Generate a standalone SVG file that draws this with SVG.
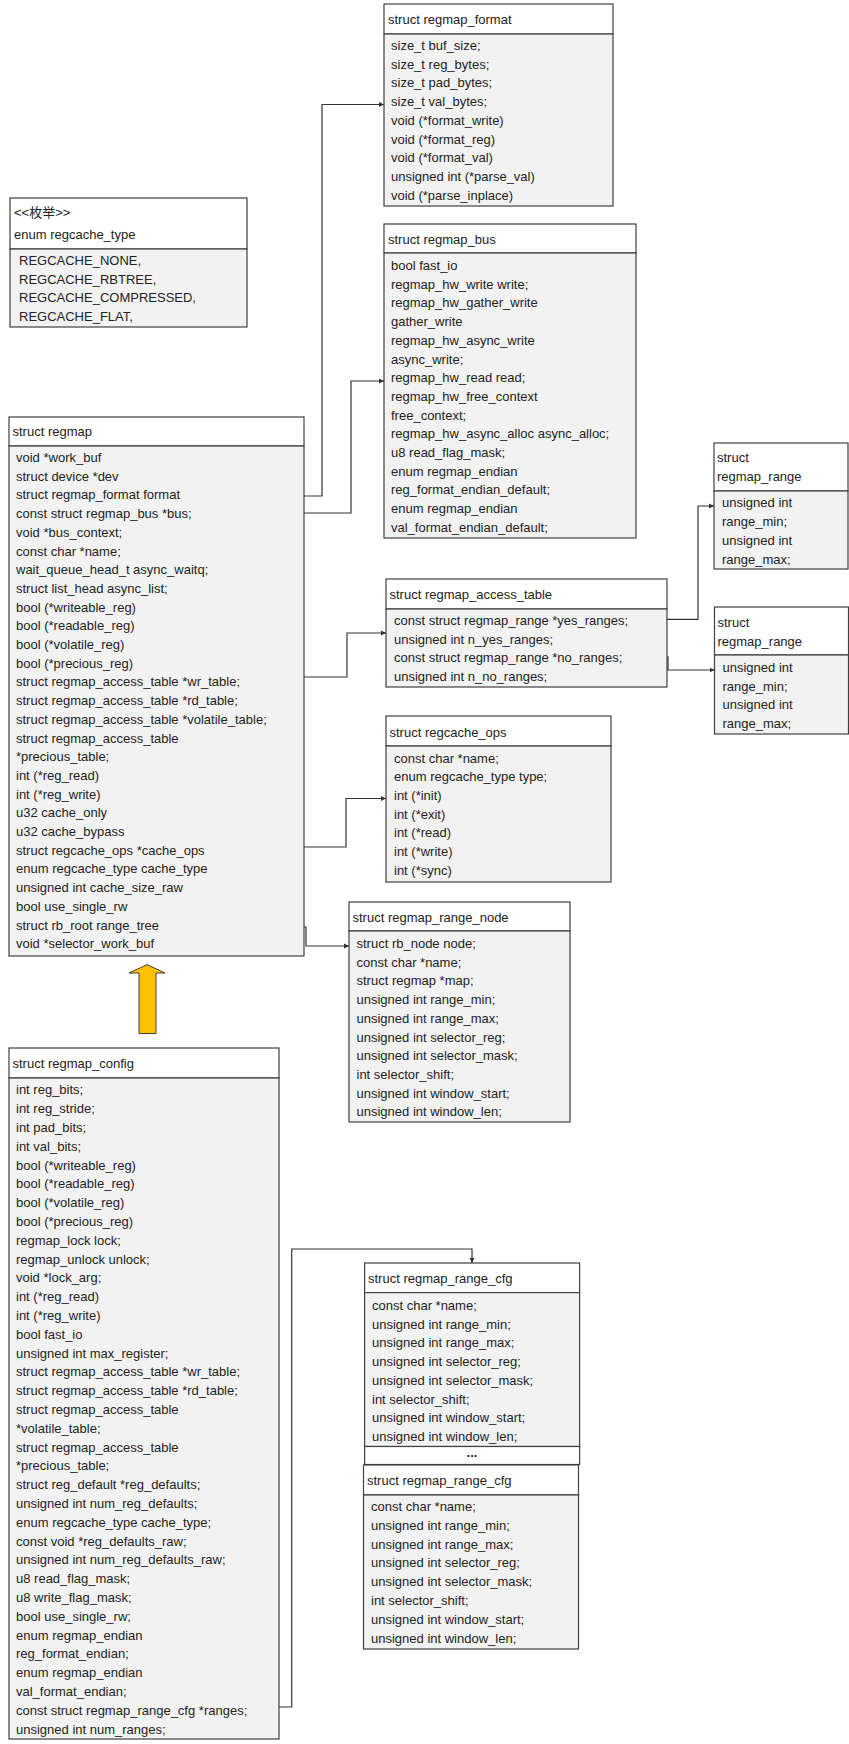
<svg xmlns="http://www.w3.org/2000/svg" width="849" height="1744" viewBox="0 0 849 1744">
<defs>
<style>
.h{fill:#fff;stroke:#404040;stroke-width:1.2}
.b{fill:#f2f2f2;stroke:#404040;stroke-width:1.2}
text{font-family:"Liberation Sans",Arial,sans-serif;font-size:13px;fill:#222}
.c{fill:none;stroke:#333;stroke-width:1.2}
</style>
<marker id="a" markerWidth="6" markerHeight="6" refX="5" refY="3" orient="auto" markerUnits="userSpaceOnUse"><path d="M0,0.5 L5,3 L0,5.5z" fill="#333"/></marker>
</defs>
<rect width="849" height="1744" fill="#fff"/>

<g id="regmap_format">
<rect class="h" x="384" y="4" width="229" height="30"/><rect class="b" x="384" y="34" width="229" height="172"/>
<text x="388" y="24">struct regmap_format</text>
<text x="391" y="50">size_t buf_size;</text>
<text x="391" y="68.7">size_t reg_bytes;</text>
<text x="391" y="87.4">size_t pad_bytes;</text>
<text x="391" y="106.1">size_t val_bytes;</text>
<text x="391" y="124.8">void (*format_write)</text>
<text x="391" y="143.5">void (*format_reg)</text>
<text x="391" y="162.2">void (*format_val)</text>
<text x="391" y="180.9">unsigned int (*parse_val)</text>
<text x="391" y="199.6">void (*parse_inplace)</text>
</g>

<g id="enum_regcache_type">
<rect class="h" x="10" y="198" width="237" height="51"/><rect class="b" x="10" y="249" width="237" height="78"/>
<text x="14" y="217" style="font-family:'Liberation Sans','Noto Sans CJK SC',sans-serif">&lt;&lt;枚举&gt;&gt;</text>
<text x="14" y="239">enum regcache_type</text>
<text x="19" y="265">REGCACHE_NONE,</text>
<text x="19" y="284">REGCACHE_RBTREE,</text>
<text x="19" y="302">REGCACHE_COMPRESSED,</text>
<text x="19" y="321">REGCACHE_FLAT,</text>
</g>

<g id="regmap_bus">
<rect class="h" x="384" y="224" width="252" height="29"/><rect class="b" x="384" y="253" width="252" height="285"/>
<text x="388" y="244">struct regmap_bus</text>
<text x="391" y="270">bool fast_io</text>
<text x="391" y="288.7">regmap_hw_write write;</text>
<text x="391" y="307.4">regmap_hw_gather_write</text>
<text x="391" y="326.1">gather_write</text>
<text x="391" y="344.8">regmap_hw_async_write</text>
<text x="391" y="363.5">async_write;</text>
<text x="391" y="382.2">regmap_hw_read read;</text>
<text x="391" y="400.9">regmap_hw_free_context</text>
<text x="391" y="419.6">free_context;</text>
<text x="391" y="438.3">regmap_hw_async_alloc async_alloc;</text>
<text x="391" y="457">u8 read_flag_mask;</text>
<text x="391" y="475.7">enum regmap_endian</text>
<text x="391" y="494.4">reg_format_endian_default;</text>
<text x="391" y="513.1">enum regmap_endian</text>
<text x="391" y="531.8">val_format_endian_default;</text>
</g>

<g id="regmap">
<rect class="h" x="9" y="417" width="295" height="29"/><rect class="b" x="9" y="446" width="295" height="510"/>
<text x="12.5" y="436">struct regmap</text>
<text x="16" y="462">void *work_buf</text>
<text x="16" y="480.7">struct device *dev</text>
<text x="16" y="499.4">struct regmap_format format</text>
<text x="16" y="518.1">const struct regmap_bus *bus;</text>
<text x="16" y="536.8">void *bus_context;</text>
<text x="16" y="555.5">const char *name;</text>
<text x="16" y="574.2">wait_queue_head_t async_waitq;</text>
<text x="16" y="592.9">struct list_head async_list;</text>
<text x="16" y="611.6">bool (*writeable_reg)</text>
<text x="16" y="630.3">bool (*readable_reg)</text>
<text x="16" y="649">bool (*volatile_reg)</text>
<text x="16" y="667.7">bool (*precious_reg)</text>
<text x="16" y="686.4">struct regmap_access_table *wr_table;</text>
<text x="16" y="705.1">struct regmap_access_table *rd_table;</text>
<text x="16" y="723.8">struct regmap_access_table *volatile_table;</text>
<text x="16" y="742.5">struct regmap_access_table</text>
<text x="16" y="761.2">*precious_table;</text>
<text x="16" y="779.9">int (*reg_read)</text>
<text x="16" y="798.6">int (*reg_write)</text>
<text x="16" y="817.3">u32 cache_only</text>
<text x="16" y="836">u32 cache_bypass</text>
<text x="16" y="854.7">struct regcache_ops *cache_ops</text>
<text x="16" y="873.4">enum regcache_type cache_type</text>
<text x="16" y="892.1">unsigned int cache_size_raw</text>
<text x="16" y="910.8">bool use_single_rw</text>
<text x="16" y="929.5">struct rb_root range_tree</text>
<text x="16" y="948.2">void *selector_work_buf</text>
</g>

<g id="regmap_range_1">
<rect class="h" x="714" y="443" width="134" height="48"/><rect class="b" x="714" y="491" width="134" height="78"/>
<text x="717" y="462">struct</text>
<text x="717" y="481">regmap_range</text>
<text x="722" y="507">unsigned int</text>
<text x="722" y="526">range_min;</text>
<text x="722" y="545">unsigned int</text>
<text x="722" y="564">range_max;</text>
</g>

<g id="regmap_access_table">
<rect class="h" x="386" y="579" width="281" height="30"/><rect class="b" x="386" y="609" width="281" height="78"/>
<text x="389.5" y="599">struct regmap_access_table</text>
<text x="394" y="625">const struct regmap_range *yes_ranges;</text>
<text x="394" y="643.7">unsigned int n_yes_ranges;</text>
<text x="394" y="662.4">const struct regmap_range *no_ranges;</text>
<text x="394" y="681.1">unsigned int n_no_ranges;</text>
</g>

<g id="regmap_range_2">
<rect class="h" x="714.5" y="607" width="134" height="48"/><rect class="b" x="714.5" y="655" width="134" height="79"/>
<text x="717.5" y="627">struct</text>
<text x="717.5" y="645.5">regmap_range</text>
<text x="722.5" y="672">unsigned int</text>
<text x="722.5" y="690.7">range_min;</text>
<text x="722.5" y="709.4">unsigned int</text>
<text x="722.5" y="728.1">range_max;</text>
</g>

<g id="regcache_ops">
<rect class="h" x="386" y="716" width="225" height="30"/><rect class="b" x="386" y="746" width="225" height="136"/>
<text x="389.5" y="736.5">struct regcache_ops</text>
<text x="394" y="762.6">const char *name;</text>
<text x="394" y="781.3">enum regcache_type type;</text>
<text x="394" y="800">int (*init)</text>
<text x="394" y="818.7">int (*exit)</text>
<text x="394" y="837.4">int (*read)</text>
<text x="394" y="856.1">int (*write)</text>
<text x="394" y="874.8">int (*sync)</text>
</g>

<g id="regmap_range_node">
<rect class="h" x="349" y="902" width="221" height="29"/><rect class="b" x="349" y="931" width="221" height="191"/>
<text x="352.5" y="922">struct regmap_range_node</text>
<text x="356.5" y="948">struct rb_node node;</text>
<text x="356.5" y="966.7">const char *name;</text>
<text x="356.5" y="985.4">struct regmap *map;</text>
<text x="356.5" y="1004.1">unsigned int range_min;</text>
<text x="356.5" y="1022.8">unsigned int range_max;</text>
<text x="356.5" y="1041.5">unsigned int selector_reg;</text>
<text x="356.5" y="1060.2">unsigned int selector_mask;</text>
<text x="356.5" y="1078.9">int selector_shift;</text>
<text x="356.5" y="1097.6">unsigned int window_start;</text>
<text x="356.5" y="1116.3">unsigned int window_len;</text>
</g>

<g id="inherit_arrow">
<path d="M147,964.6 L165,973 L156,973 L156,1033.5 L139,1033.5 L139,973 L129,973 Z" fill="#ffc000" stroke="#404040" stroke-width="1"/>
</g>

<g id="regmap_config">
<rect class="h" x="9" y="1048" width="270" height="30"/><rect class="b" x="9" y="1078" width="270" height="661"/>
<text x="12.5" y="1068">struct regmap_config</text>
<text x="16" y="1094.4">int reg_bits;</text>
<text x="16" y="1113.2">int reg_stride;</text>
<text x="16" y="1132">int pad_bits;</text>
<text x="16" y="1150.8">int val_bits;</text>
<text x="16" y="1169.6">bool (*writeable_reg)</text>
<text x="16" y="1188.4">bool (*readable_reg)</text>
<text x="16" y="1207.2">bool (*volatile_reg)</text>
<text x="16" y="1226">bool (*precious_reg)</text>
<text x="16" y="1244.8">regmap_lock lock;</text>
<text x="16" y="1263.6">regmap_unlock unlock;</text>
<text x="16" y="1282.4">void *lock_arg;</text>
<text x="16" y="1301.2">int (*reg_read)</text>
<text x="16" y="1320">int (*reg_write)</text>
<text x="16" y="1338.8">bool fast_io</text>
<text x="16" y="1357.6">unsigned int max_register;</text>
<text x="16" y="1376.4">struct regmap_access_table *wr_table;</text>
<text x="16" y="1395.2">struct regmap_access_table *rd_table;</text>
<text x="16" y="1414">struct regmap_access_table</text>
<text x="16" y="1432.8">*volatile_table;</text>
<text x="16" y="1451.6">struct regmap_access_table</text>
<text x="16" y="1470.4">*precious_table;</text>
<text x="16" y="1489.2">struct reg_default *reg_defaults;</text>
<text x="16" y="1508">unsigned int num_reg_defaults;</text>
<text x="16" y="1526.8">enum regcache_type cache_type;</text>
<text x="16" y="1545.6">const void *reg_defaults_raw;</text>
<text x="16" y="1564.4">unsigned int num_reg_defaults_raw;</text>
<text x="16" y="1583.2">u8 read_flag_mask;</text>
<text x="16" y="1602">u8 write_flag_mask;</text>
<text x="16" y="1620.8">bool use_single_rw;</text>
<text x="16" y="1639.6">enum regmap_endian</text>
<text x="16" y="1658.4">reg_format_endian;</text>
<text x="16" y="1677.2">enum regmap_endian</text>
<text x="16" y="1696">val_format_endian;</text>
<text x="16" y="1714.8">const struct regmap_range_cfg *ranges;</text>
<text x="16" y="1733.6">unsigned int num_ranges;</text>
</g>

<g id="regmap_range_cfg_1">
<rect class="h" x="364.6" y="1263" width="215" height="29.6"/><rect class="b" x="364.6" y="1292.6" width="215" height="153.9"/>
<text x="368" y="1283">struct regmap_range_cfg</text>
<text x="372" y="1310">const char *name;</text>
<text x="372" y="1328.7">unsigned int range_min;</text>
<text x="372" y="1347.4">unsigned int range_max;</text>
<text x="372" y="1366.1">unsigned int selector_reg;</text>
<text x="372" y="1384.8">unsigned int selector_mask;</text>
<text x="372" y="1403.5">int selector_shift;</text>
<text x="372" y="1422.2">unsigned int window_start;</text>
<text x="372" y="1440.9">unsigned int window_len;</text>
</g>

<g id="ellipsis">
<rect class="h" x="364.6" y="1446.5" width="215" height="18"/>
<text x="472" y="1457" text-anchor="middle" style="font-weight:bold">...</text>
</g>

<g id="regmap_range_cfg_2">
<rect class="h" x="363.5" y="1465" width="215" height="30"/><rect class="b" x="363.5" y="1495" width="215" height="154"/>
<text x="367" y="1485">struct regmap_range_cfg</text>
<text x="371" y="1511">const char *name;</text>
<text x="371" y="1529.8">unsigned int range_min;</text>
<text x="371" y="1548.6">unsigned int range_max;</text>
<text x="371" y="1567.4">unsigned int selector_reg;</text>
<text x="371" y="1586.2">unsigned int selector_mask;</text>
<text x="371" y="1605">int selector_shift;</text>
<text x="371" y="1623.8">unsigned int window_start;</text>
<text x="371" y="1642.6">unsigned int window_len;</text>
</g>

<g id="connectors">
<path class="c" d="M304,496 H322 V104.5 H384" marker-end="url(#a)"/>
<path class="c" d="M304,513 H351 V381 H384" marker-end="url(#a)"/>
<path class="c" d="M304,677 H347 V633 H386" marker-end="url(#a)"/>
<path class="c" d="M304,847 H346 V798.5 H386" marker-end="url(#a)"/>
<path class="c" d="M304,927 H306 V946 H349" marker-end="url(#a)"/>
<path class="c" d="M667,619.4 H698 V506 H714" marker-end="url(#a)"/>
<path class="c" d="M667,657 H668 V670 H714.5" marker-end="url(#a)"/>
<path class="c" d="M279,1707 H291.7 V1249 H472 V1263" marker-end="url(#a)"/>
</g>
</svg>
